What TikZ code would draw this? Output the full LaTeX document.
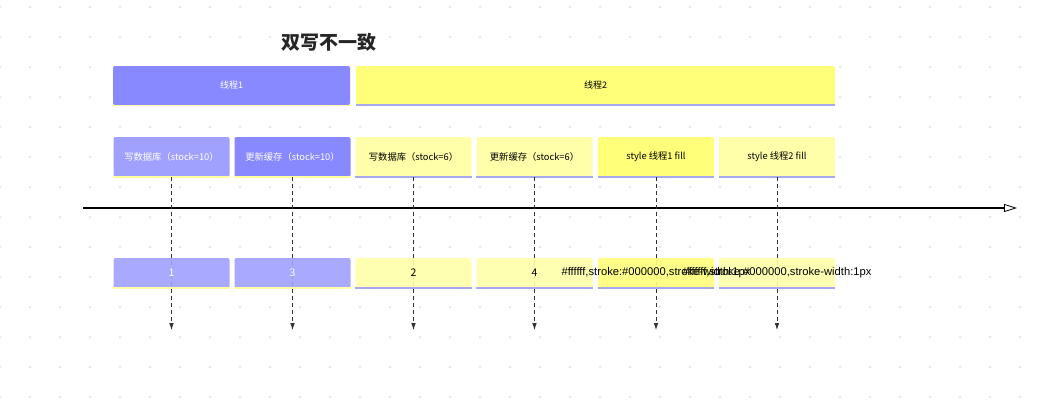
\documentclass[tikz,border=0pt]{standalone}
\usepackage{fontspec}
\setmainfont{Noto Sans CJK SC}
\newfontfamily\rawfont{Liberation Sans}
\usepackage{xcolor}
\usetikzlibrary{calc, arrows.meta, positioning}

\definecolor{thdblue}{HTML}{8888FF}
\definecolor{thdbluelt}{HTML}{A0A0FF}
\definecolor{thdyellow}{HTML}{FFFF7A}
\definecolor{thdyellowlt}{HTML}{FFFFAA}
\definecolor{edgeblue}{HTML}{A8A8F0}
\definecolor{edgeyellow}{HTML}{FFFFA0}
\definecolor{dotgray}{HTML}{E8E8E8}

\begin{document}
\begin{tikzpicture}[x=1pt, y=-1pt, >=latex,
    bar/.style={rounded corners=2pt, minimum height=39pt, inner sep=0pt,
        font=\fontsize{9}{10}\selectfont},
    stepbox/.style={rounded corners=2pt, minimum width=116pt, minimum height=40pt,
        inner sep=0pt, font=\fontsize{9.3}{11}\selectfont},
    valbox/.style={rounded corners=2pt, minimum width=116pt, minimum height=30pt,
        inner sep=0pt, fill opacity=0.9, text opacity=1, font=\fontsize{10.5}{12}\selectfont},
    bluebox/.style={fill=#1, text=white},
    yellowbox/.style={fill=#1, text=black},
    rawtext/.style={font=\fontsize{11.2}{13}\rawfont, text=black},
    tick/.style={dashed, dash pattern=on 4pt off 3pt, line width=0.9pt, black!80,
        -{Latex[length=7pt, width=4.5pt]}}
]
    \useasboundingbox (0,0) rectangle (1048,400);

    % dot grid
    \foreach \i in {0,...,35}
        \foreach \j in {0,...,13}
            \fill[dotgray] (30*\i, 7+30*\j) circle (1.5pt);

    % title
    \node[font=\fontsize{19}{22}\selectfont\bfseries, text=black!85] (title) at (329,42) {双写不一致};

    % threads
    \node[bar, bluebox=thdblue, minimum width=237pt] (th1) at (231.5,85.5) {线程1};
    \node[bar, yellowbox=thdyellow, minimum width=479pt] (th2) at (595.5,85.5) {线程2};
    \draw[edgeyellow, line width=1.2pt] (th1.south west) -- (th1.south east);
    \draw[edgeblue, line width=1.5pt] (th2.south west) -- (th2.south east);

    % steps
    \node[stepbox, bluebox=thdbluelt] (s1) at (171.5,157) {写数据库（stock=10）};
    \node[stepbox, bluebox=thdblue] (s2) at (292.5,157) {更新缓存（stock=10）};
    \node[stepbox, yellowbox=thdyellowlt] (s3) at (413.5,157) {写数据库（stock=6）};
    \node[stepbox, yellowbox=thdyellowlt] (s4) at (534.5,157) {更新缓存（stock=6）};
    \node[stepbox, yellowbox=thdyellow] (s5) at (656,157) {style 线程1 fill};
    \node[stepbox, yellowbox=thdyellowlt] (s6) at (777,157) {style 线程2 fill};
    \foreach \n/\c in {1/edgeyellow, 2/edgeyellow, 3/edgeblue, 4/edgeblue, 5/edgeblue, 6/edgeblue}
        \draw[\c, line width=1.5pt] (s\n.south west) -- (s\n.south east);

    % time axis
    \coordinate (t0) at (83,208);
    \coordinate (t1) at (1017,208);
    \draw[line width=2.2pt, -{Triangle[open, length=13pt, width=8pt, line width=0.8pt]}] (t0) -- (t1);

    % dashed arrows
    \foreach \n in {1,...,6} {
        \coordinate (e\n) at ($(s\n.south)+(0,153)$);
        \draw[tick] (s\n.south) -- (e\n);
    }

    % values
    \node[valbox, bluebox=thdbluelt] (v1) at (171.5,273) {1};
    \node[valbox, bluebox=thdbluelt] (v2) at (292.5,273) {3};
    \node[valbox, yellowbox=thdyellowlt] (v3) at (413.5,273) {2};
    \node[valbox, yellowbox=thdyellowlt] (v4) at (534.5,273) {4};
    \node[valbox, yellowbox=thdyellow] (v5) at (656,273) {};
    \node[valbox, yellowbox=thdyellowlt] (v6) at (777,273) {};
    \foreach \n/\c in {1/edgeyellow, 2/edgeyellow, 3/edgeblue, 4/edgeblue, 5/edgeblue, 6/edgeblue}
        \draw[\c, line width=1.5pt] (v\n.south west) -- (v\n.south east);
    \node[rawtext] (r5) at (v5.center) {\#ffffff,stroke:\#000000,stroke-width:1px};
    \node[rawtext] (r6) at (v6.center) {\#ffffff,stroke:\#000000,stroke-width:1px};
\end{tikzpicture}
\end{document}
